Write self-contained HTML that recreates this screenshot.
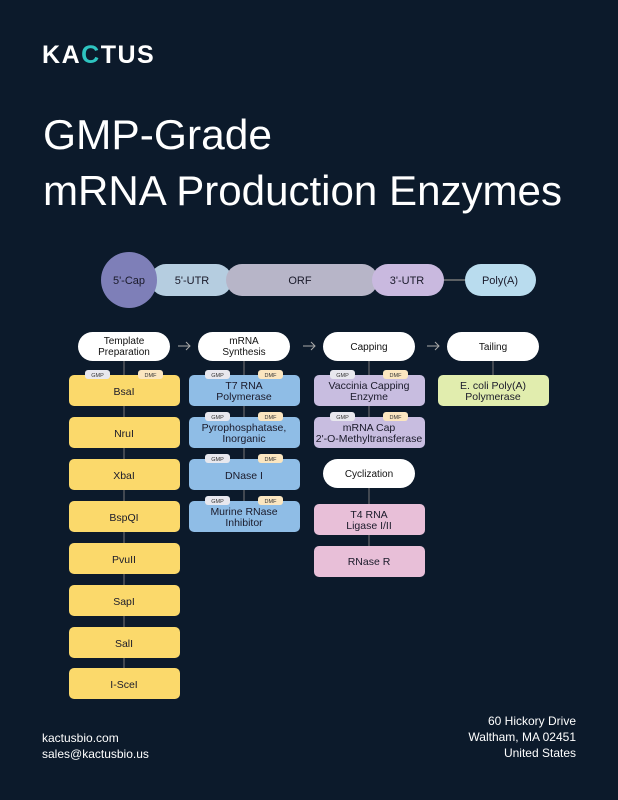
<!DOCTYPE html><html><head><meta charset="utf-8"><style>
html,body{margin:0;padding:0;background:#0c1a2b;}
svg{display:block}
text{font-family:"Liberation Sans",sans-serif;}
</style></head><body>
<svg width="618" height="800" viewBox="0 0 618 800" xmlns="http://www.w3.org/2000/svg">
<rect width="618" height="800" fill="#0c1a2b"/>
<!-- logo -->
<text x="42" y="63" font-size="25" fill="#fff" letter-spacing="1.5" font-weight="bold">K<tspan fill="#fff">A</tspan><tspan fill="#2ec4c0">C</tspan>TUS</text>
<!-- title -->
<text x="43" y="149" font-size="42" fill="#fff" textLength="229" lengthAdjust="spacingAndGlyphs">GMP-Grade</text>
<text x="43" y="205" font-size="42" fill="#fff" textLength="519" lengthAdjust="spacingAndGlyphs">mRNA Production Enzymes</text>
<!-- top row -->
<line x1="440" y1="280" x2="468" y2="280" stroke="#777" stroke-width="1.5"/>
<rect x="150" y="264" width="82" height="32" rx="16" fill="#b5cde0"/>
<rect x="226" y="264" width="152" height="32" rx="16" fill="#b7b5c8"/>
<rect x="372" y="264" width="72" height="32" rx="16" fill="#c9b9df"/>
<rect x="465" y="264" width="71" height="32" rx="16" fill="#b9dcee"/>
<circle cx="129" cy="280" r="28" fill="#7e7fb8"/>
<g font-size="11" fill="#1a1a2a" text-anchor="middle">
<text x="129" y="284">5'-Cap</text><text x="192" y="284">5'-UTR</text><text x="300" y="284">ORF</text><text x="407" y="284">3'-UTR</text><text x="500" y="284">Poly(A)</text>
</g>
<!-- connectors -->
<g stroke="#777" stroke-width="1">
<line x1="124" y1="360" x2="124" y2="684"/>
<line x1="244" y1="360" x2="244" y2="516"/>
<line x1="369" y1="360" x2="369" y2="432"/>
<line x1="369" y1="488" x2="369" y2="560"/>
<line x1="493" y1="360" x2="493" y2="390"/>
</g>
<g stroke="#aaa" stroke-width="1" fill="none">
<path d="M178 346h12m-4-4l4 4l-4 4"/><path d="M303 346h12m-4-4l4 4l-4 4"/><path d="M427 346h12m-4-4l4 4l-4 4"/>
</g>
<!-- headers -->
<g fill="#fff">
<rect x="78" y="332" width="92" height="29" rx="14.5"/>
<rect x="198" y="332" width="92" height="29" rx="14.5"/>
<rect x="323" y="332" width="92" height="29" rx="14.5"/>
<rect x="447" y="332" width="92" height="29" rx="14.5"/>
<rect x="323" y="459" width="92" height="29" rx="14.5"/>
</g>
<g font-size="10" fill="#111" text-anchor="middle">
<text x="124" y="344">Template</text><text x="124" y="355">Preparation</text>
<text x="244" y="344">mRNA</text><text x="244" y="355">Synthesis</text>
<text x="369" y="350">Capping</text><text x="493" y="350">Tailing</text>
<text x="369" y="477">Cyclization</text>
</g>
<!-- yellow -->
<g fill="#fbd96b">
<rect x="69" y="375" width="111" height="31" rx="5"/><rect x="69" y="417" width="111" height="31" rx="5"/>
<rect x="69" y="459" width="111" height="31" rx="5"/><rect x="69" y="501" width="111" height="31" rx="5"/>
<rect x="69" y="543" width="111" height="31" rx="5"/><rect x="69" y="585" width="111" height="31" rx="5"/>
<rect x="69" y="627" width="111" height="31" rx="5"/><rect x="69" y="668" width="111" height="31" rx="5"/>
</g>
<g fill="#8fbde6">
<rect x="189" y="375" width="111" height="31" rx="5"/><rect x="189" y="417" width="111" height="31" rx="5"/>
<rect x="189" y="459" width="111" height="31" rx="5"/><rect x="189" y="501" width="111" height="31" rx="5"/>
</g>
<g fill="#c8bde0">
<rect x="314" y="375" width="111" height="31" rx="5"/><rect x="314" y="417" width="111" height="31" rx="5"/>
</g>
<g fill="#e8bfd8">
<rect x="314" y="504" width="111" height="31" rx="5"/><rect x="314" y="546" width="111" height="31" rx="5"/>
</g>
<rect x="438" y="375" width="111" height="31" rx="5" fill="#e1edae"/>
<!-- badges -->
<g>
<rect x="85" y="370" width="25" height="9" rx="3" fill="#e8e8ee"/><rect x="138" y="370" width="25" height="9" rx="3" fill="#fbe6c0"/>
<rect x="205" y="370" width="25" height="9" rx="3" fill="#e8e8ee"/><rect x="258" y="370" width="25" height="9" rx="3" fill="#fbe6c0"/>
<rect x="205" y="412" width="25" height="9" rx="3" fill="#e8e8ee"/><rect x="258" y="412" width="25" height="9" rx="3" fill="#fbe6c0"/>
<rect x="205" y="454" width="25" height="9" rx="3" fill="#e8e8ee"/><rect x="258" y="454" width="25" height="9" rx="3" fill="#fbe6c0"/>
<rect x="205" y="496" width="25" height="9" rx="3" fill="#e8e8ee"/><rect x="258" y="496" width="25" height="9" rx="3" fill="#fbe6c0"/>
<rect x="330" y="370" width="25" height="9" rx="3" fill="#e8e8ee"/><rect x="383" y="370" width="25" height="9" rx="3" fill="#fbe6c0"/>
<rect x="330" y="412" width="25" height="9" rx="3" fill="#e8e8ee"/><rect x="383" y="412" width="25" height="9" rx="3" fill="#fbe6c0"/>
</g>
<g font-size="5.5" fill="#333" text-anchor="middle">
<text x="97.5" y="377">GMP</text><text x="150.5" y="377">DMF</text>
<text x="217.5" y="377">GMP</text><text x="270.5" y="377">DMF</text>
<text x="217.5" y="419">GMP</text><text x="270.5" y="419">DMF</text>
<text x="217.5" y="461">GMP</text><text x="270.5" y="461">DMF</text>
<text x="217.5" y="503">GMP</text><text x="270.5" y="503">DMF</text>
<text x="342.5" y="377">GMP</text><text x="395.5" y="377">DMF</text>
<text x="342.5" y="419">GMP</text><text x="395.5" y="419">DMF</text>
</g>
<g font-size="10.5" fill="#1a1a2a" text-anchor="middle">
<text x="124" y="395">BsaI</text><text x="124" y="437">NruI</text><text x="124" y="479">XbaI</text><text x="124" y="521">BspQI</text>
<text x="124" y="563">PvuII</text><text x="124" y="605">SapI</text><text x="124" y="647">SalI</text><text x="124" y="688">I-SceI</text>
<text x="244" y="389">T7 RNA</text><text x="244" y="400">Polymerase</text>
<text x="244" y="431">Pyrophosphatase,</text><text x="244" y="442">Inorganic</text>
<text x="244" y="479">DNase I</text>
<text x="244" y="515">Murine RNase</text><text x="244" y="526">Inhibitor</text>
<text x="369" y="389">Vaccinia Capping</text><text x="369" y="400">Enzyme</text>
<text x="369" y="431">mRNA Cap</text><text x="369" y="442">2'-O-Methyltransferase</text>
<text x="369" y="518">T4 RNA</text><text x="369" y="529">Ligase I/II</text>
<text x="369" y="565">RNase R</text>
<text x="493" y="389">E. coli Poly(A)</text><text x="493" y="400">Polymerase</text>
</g>
<!-- footer -->
<g font-size="12" fill="#fff">
<text x="42" y="742">kactusbio.com</text><text x="42" y="758">sales@kactusbio.us</text>
<g text-anchor="end"><text x="576" y="725">60 Hickory Drive</text><text x="576" y="741">Waltham, MA 02451</text><text x="576" y="757">United States</text></g>
</g>
</svg>
</body></html>
